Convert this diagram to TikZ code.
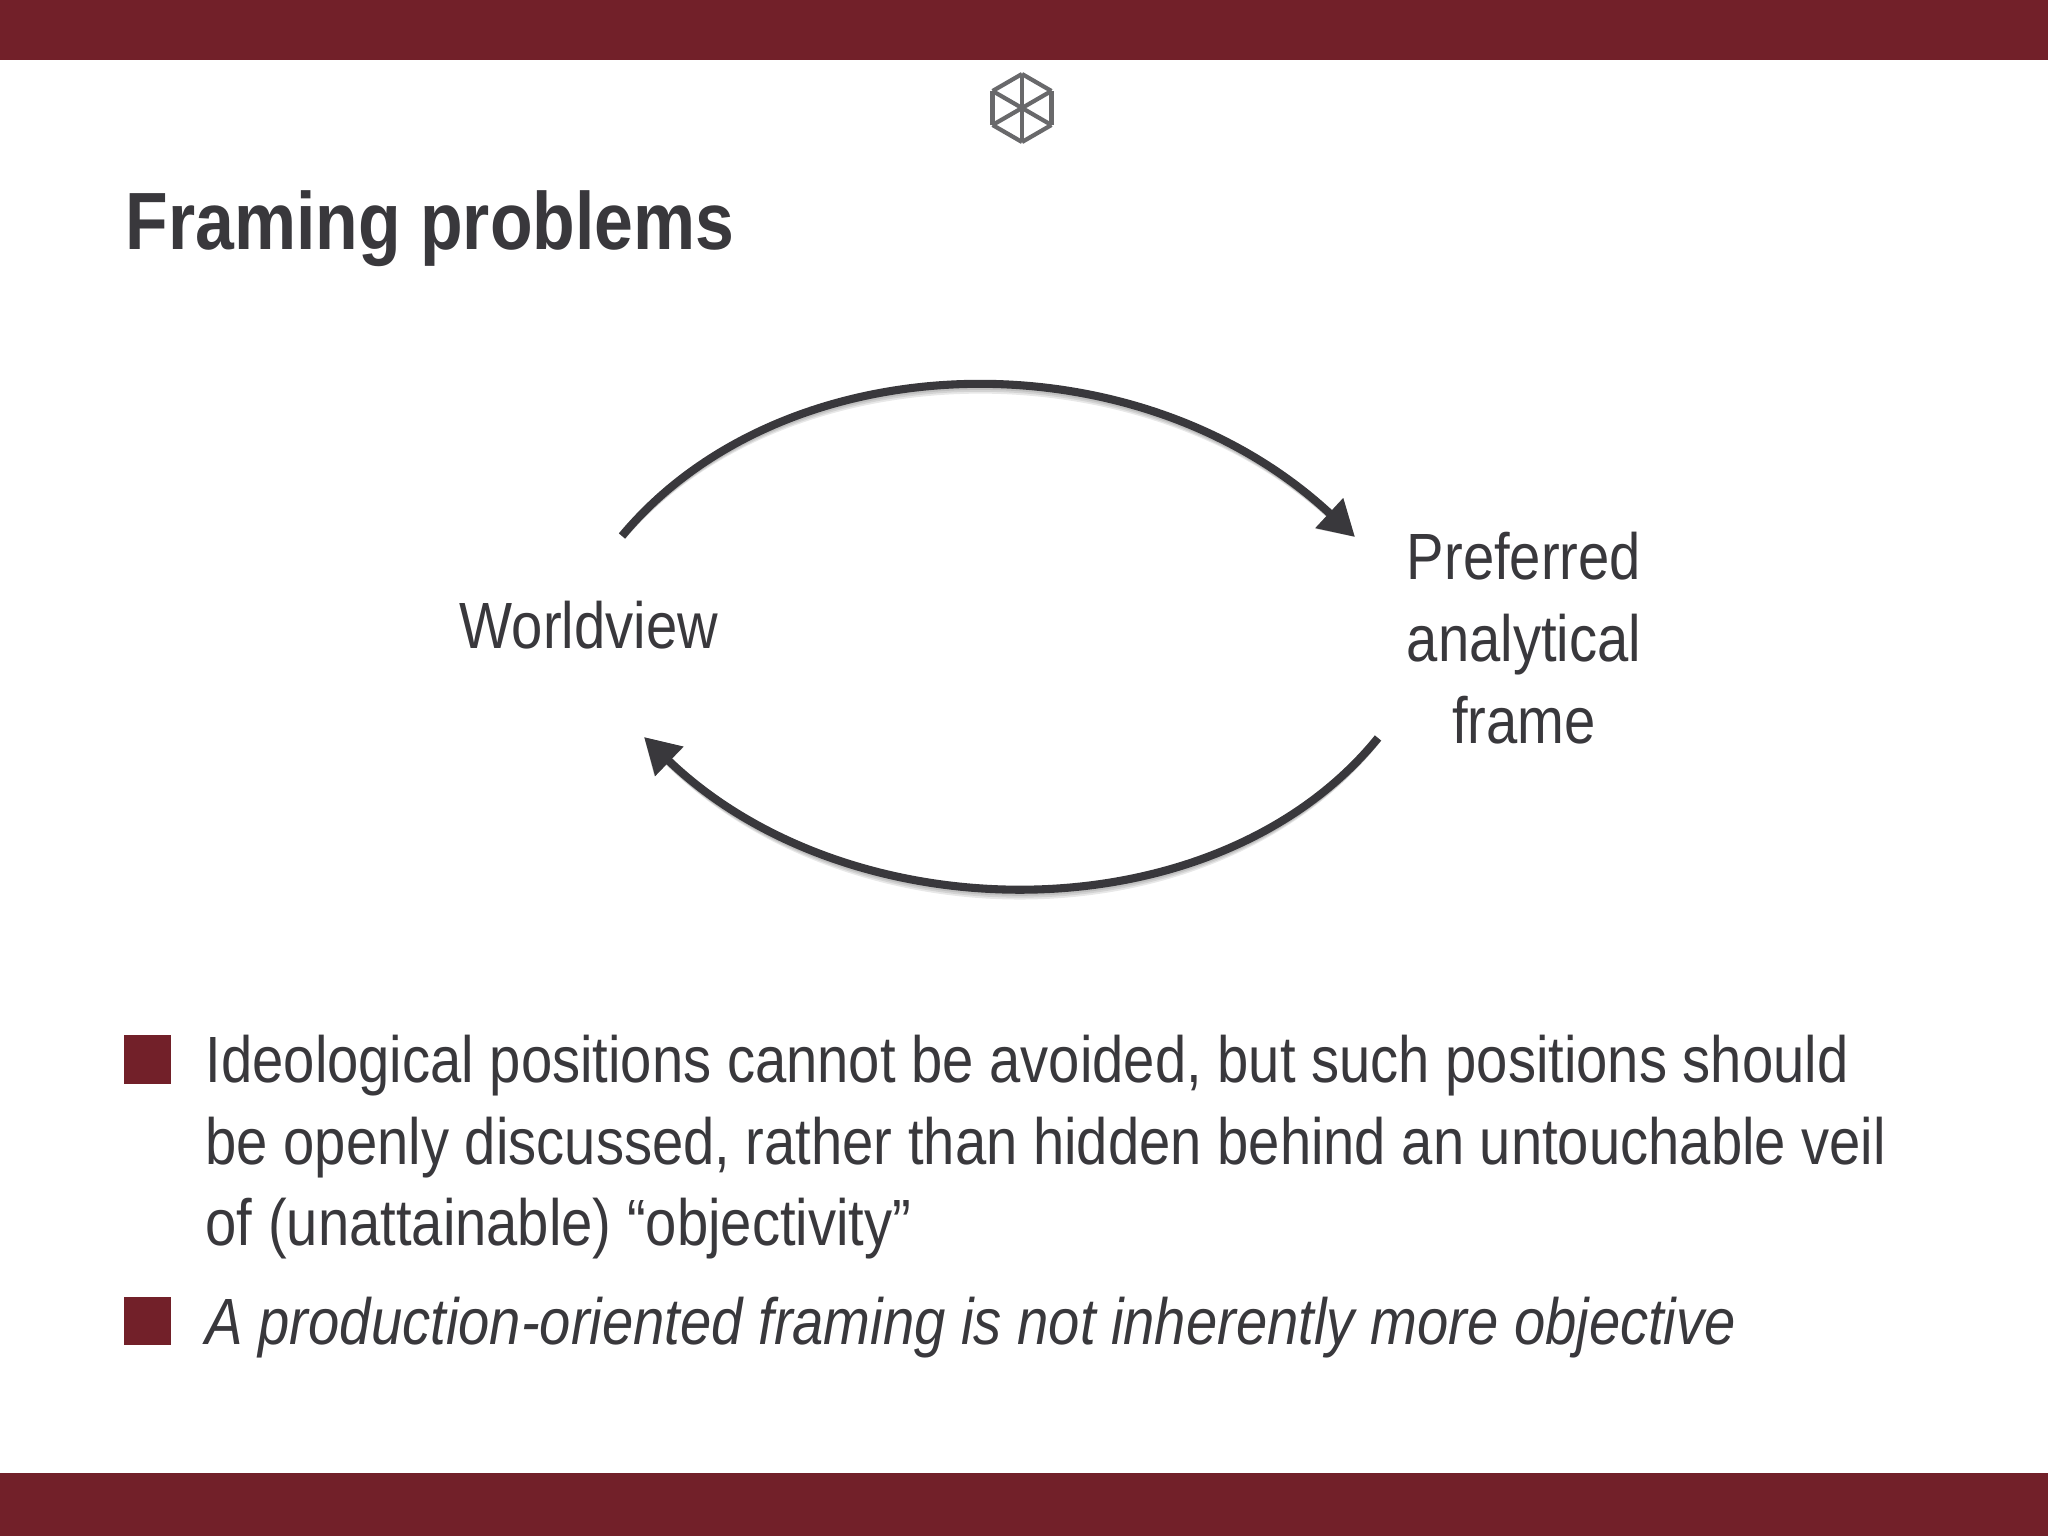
\documentclass[tikz,border=0pt]{standalone}
\usepackage{fontspec}
\setmainfont[FakeStretch=0.859]{Liberation Sans}
\usetikzlibrary{arrows.meta}
\definecolor{barred}{HTML}{722029}
\definecolor{inkgray}{HTML}{39383C}
\definecolor{logogray}{HTML}{69696B}
\tikzset{
	slidetext/.style={text=inkgray,font=\fontsize{18.6pt}{23.3pt}\selectfont,inner sep=0pt},
	flowline/.style={draw=inkgray,line width=2.3pt,-{Triangle[length=10pt,width=11pt]}},
	flowshade/.style={draw=black,opacity=0.09,line width=2.4pt,-{Triangle[length=10pt,width=11pt]}},
	bulletbox/.style={fill=barred,minimum size=0pt,inner sep=0pt}
}
\begin{document}
\begin{tikzpicture}[x=0.01cm,y=-0.01cm]
	\useasboundingbox (0,0) rectangle (2048,1536);
	% Bars
	\fill[barred] (0,0) rectangle (2048,60);
	\fill[barred] (0,1473) rectangle (2048,1536);
	% Logo
	\foreach \ang in {90,150,...,390}{
		\draw[logogray,line width=1.2pt] (1022,108) -- ++(\ang:34);
		\draw[logogray,line width=1.2pt,line join=round] (1022,108) ++(\ang:34) -- ++(\ang+120:34);
	}
	% Title
	\node[slidetext,anchor=base west,font=\fontsize{23.1pt}{28pt}\selectfont\bfseries] (title) at (125,249) {Framing problems};
	% Labels
	\node[slidetext] (world) at (589,625) {Worldview};
	\node[slidetext,align=center] (frame) at (1524,638) {Preferred\\analytical\\frame};
	\coordinate (worldout) at (622,536);
	\coordinate (framein) at (1355,537);
	\coordinate (frameout) at (1378,738);
	\coordinate (worldin) at (644,737);
	% Arrows, shade first
	\foreach \sh in {0.7,1.4,2.1}{
		\draw[flowshade,yshift=-\sh pt] (worldout) .. controls (783,342) and (1135,332) .. (framein);
		\draw[flowshade,yshift=-\sh pt] (frameout) .. controls (1215,938) and (850,935) .. (worldin);
	}
	\draw[flowline] (worldout) .. controls (783,342) and (1135,332) .. (framein);
	\draw[flowline] (frameout) .. controls (1215,938) and (850,935) .. (worldin);
	% Bullets
	\node[bulletbox,minimum width=47*0.01cm,minimum height=49*0.01cm,anchor=north west] (boxa) at (123,1034) {};
	\node[bulletbox,minimum width=47*0.01cm,minimum height=48*0.01cm,anchor=north west] (boxb) at (123,1296) {};
	\node[slidetext,anchor=north west,align=left] (texta) at (205,1034) {Ideological positions cannot be avoided, but such positions should\\be openly discussed, rather than hidden behind an untouchable veil\\of (unattainable) “objectivity”};
	\node[slidetext,anchor=north west,align=left,font=\fontsize{18.6pt}{23.3pt}\selectfont\itshape] (textb) at (205,1296) {A production-oriented framing is not inherently more objective};
\end{tikzpicture}
\end{document}
